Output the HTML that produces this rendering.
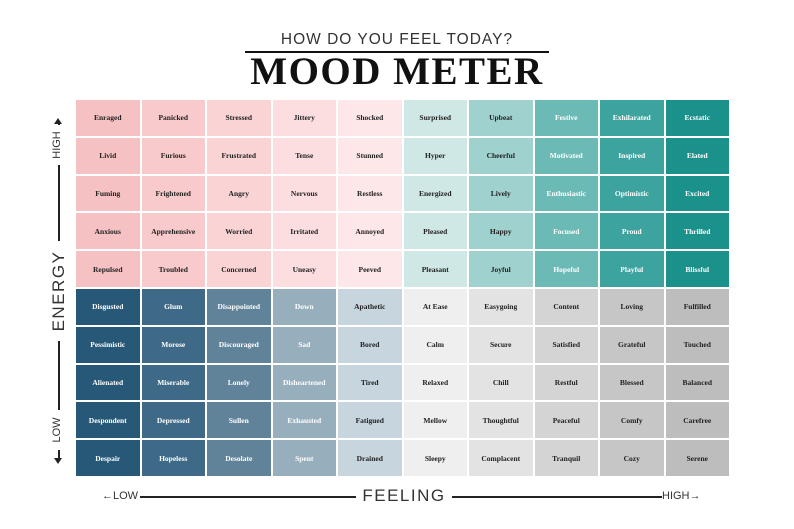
<!DOCTYPE html>
<html><head><meta charset="utf-8"><style>
body{margin:0;width:794px;height:529px;background:#fff;overflow:hidden;position:relative;font-family:"Liberation Sans",sans-serif}
.abs{position:absolute}
.cell{position:absolute;display:flex;align-items:center;justify-content:center;font-family:"Liberation Serif",serif;font-weight:bold;font-size:7.5px;color:#222}
</style></head><body>
<div class="abs" style="left:0;width:794px;top:31px;text-align:center;font-size:15.5px;letter-spacing:1px;color:#333;font-weight:300">HOW DO YOU FEEL TODAY?</div>
<div class="abs" style="left:245px;width:304px;top:51px;height:2px;background:#111"></div>
<div class="abs" style="left:0;width:794px;top:49px;text-align:center;font-family:'Liberation Serif',serif;font-weight:bold;font-size:39px;letter-spacing:1.5px;color:#111">MOOD METER</div>

<div class="abs" style="left:58px;top:122px;width:1.5px;height:338px;background:#222"></div>
<div class="abs" style="left:54px;top:118px;width:0;height:0;border-left:4px solid transparent;border-right:4px solid transparent;border-bottom:6px solid #222"></div>
<div class="abs" style="left:54px;top:458px;width:0;height:0;border-left:4px solid transparent;border-right:4px solid transparent;border-top:6px solid #222"></div>
<div class="abs" style="left:38px;top:138px;width:40px;height:14px;background:#fff;text-align:center;font-size:11px;color:#333;transform:rotate(-90deg)">HIGH</div>
<div class="abs" style="left:38px;top:423px;width:40px;height:14px;background:#fff;text-align:center;font-size:11px;color:#333;transform:rotate(-90deg)">LOW</div>
<div class="abs" style="left:10px;top:280px;width:100px;height:22px;background:#fff;text-align:center;font-size:17px;letter-spacing:1.5px;color:#333;transform:rotate(-90deg)">ENERGY</div>

<div class="abs" style="left:106px;top:496px;width:250px;height:1.5px;background:#222"></div>
<div class="abs" style="left:452px;top:496px;width:210px;height:1.5px;background:#222"></div>
<div class="abs" style="left:102px;top:490px;background:#fff;font-size:11px;color:#333;padding-right:2px">&larr;LOW</div>
<div class="abs" style="left:662px;top:490px;font-size:11px;color:#333">HIGH&rarr;</div>
<div class="abs" style="left:356px;width:96px;top:486px;text-align:center;font-size:17px;letter-spacing:1.5px;color:#333">FEELING</div>

<div id="grid"></div>
<script>
const moods=[
["Enraged","Panicked","Stressed","Jittery","Shocked","Surprised","Upbeat","Festive","Exhilarated","Ecstatic"],
["Livid","Furious","Frustrated","Tense","Stunned","Hyper","Cheerful","Motivated","Inspired","Elated"],
["Fuming","Frightened","Angry","Nervous","Restless","Energized","Lively","Enthusiastic","Optimistic","Excited"],
["Anxious","Apprehensive","Worried","Irritated","Annoyed","Pleased","Happy","Focused","Proud","Thrilled"],
["Repulsed","Troubled","Concerned","Uneasy","Peeved","Pleasant","Joyful","Hopeful","Playful","Blissful"],
["Disgusted","Glum","Disappointed","Down","Apathetic","At Ease","Easygoing","Content","Loving","Fulfilled"],
["Pessimistic","Morose","Discouraged","Sad","Bored","Calm","Secure","Satisfied","Grateful","Touched"],
["Alienated","Miserable","Lonely","Disheartened","Tired","Relaxed","Chill","Restful","Blessed","Balanced"],
["Despondent","Depressed","Sullen","Exhausted","Fatigued","Mellow","Thoughtful","Peaceful","Comfy","Carefree"],
["Despair","Hopeless","Desolate","Spent","Drained","Sleepy","Complacent","Tranquil","Cozy","Serene"]];
const topColors=["#f6c1c2","#f8cacb","#fad4d5","#fcdee0","#fde7e8","#cfe8e6","#9fd1ce","#6cbab5","#3da39e","#1b918b"];
const botColors=["#275878","#3e6a88","#60839a","#97aebd","#c7d5de","#efefef","#e3e3e3","#d4d4d4","#c6c6c6","#bdbdbd"];
const topWhite=[0,0,0,0,0,0,0,1,1,1];
const botWhite=[1,1,1,1,0,0,0,0,0,0];
const x0=76,y0=100,cw=65.5,ch=37.8,g=2;
const grid=document.getElementById('grid');
moods.forEach((row,r)=>row.forEach((m,c)=>{
  const d=document.createElement('div');
  d.className='cell';
  
  
  const top=r<5;
  d.style.left=(x0+c*cw)+'px';d.style.top=(y0+r*ch)+'px';
  d.style.width=(cw-g)+'px';d.style.height=(ch-g)+'px';
  d.style.background=top?topColors[c]:botColors[c];
  if((top?topWhite:botWhite)[c])d.style.color='#fff';
  d.textContent=m;grid.appendChild(d);
}));
</script>
</body></html>
